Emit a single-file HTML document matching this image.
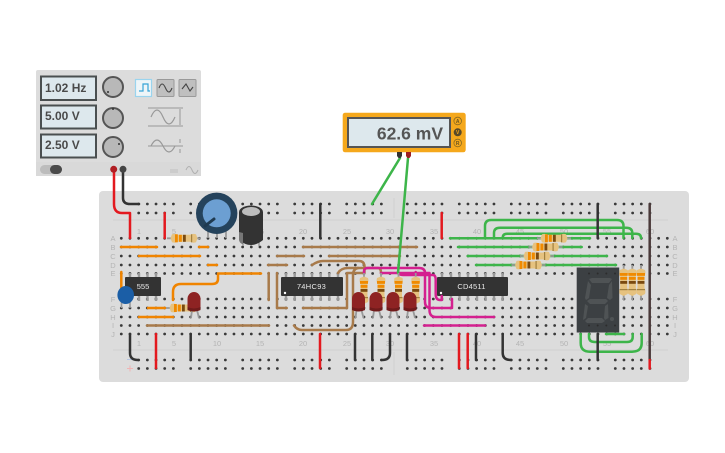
<!DOCTYPE html>
<html><head><meta charset="utf-8"><style>
html,body{margin:0;padding:0;background:#fff;width:725px;height:453px;overflow:hidden}
svg{display:block}
text{font-family:"Liberation Sans",sans-serif}
</style></head><body>
<svg width="725" height="453" viewBox="0 0 725 453" xmlns="http://www.w3.org/2000/svg">
<defs>
<g id="hres"><path d="M-17,0H17" stroke="#999" stroke-width="1.800"/><path d="M-12,-4Q-9,-5 -6,-3.500H6Q9,-5 12,-4L13.500,0L12,4Q9,5 6,3.500H-6Q-9,5 -12,4L-13.500,0Z" fill="#e6c27f"/><rect x="-9" y="-4" width="2.800" height="8" fill="#f08a00"/><rect x="-5" y="-3.500" width="2.800" height="7" fill="#f08a00"/><rect x="-1" y="-3.500" width="2.800" height="7" fill="#7a4a10"/><rect x="7" y="-4" width="1.200" height="8" fill="#a08040"/></g>
<g id="vres"><path d="M0,-17V18" stroke="#999" stroke-width="1.800"/><path d="M-4,-12Q-5,-9 -3.500,-6V6Q-5,9 -4,12L0,14L4,12Q5,9 3.500,6V-6Q5,-9 4,-12L0,-13.500Z" fill="#e6c27f"/><rect x="-4" y="-9" width="8" height="2.800" fill="#f08a00"/><rect x="-3.500" y="-5" width="7" height="2.800" fill="#f08a00"/><rect x="-3.500" y="-1" width="7" height="2.800" fill="#7a4a10"/><rect x="-4" y="7" width="8" height="1.200" fill="#a08040"/></g>
<g id="led"><path d="M-2,8L-3,16M3,8L5,16" stroke="#999" stroke-width="1.800"/><path d="M-6.500,8V-3A6.500,7 0 0 1 6.500,-3V8Q0,11 -6.500,8Z" fill="#8e2323"/><path d="M-6.500,5Q0,8 6.500,5V8Q0,11 -6.500,8Z" fill="#701b1b"/></g>
</defs>

<!-- function generator -->
<rect x="36" y="70" width="165" height="106" rx="2" fill="#dcdcdc"/>
<rect x="36" y="162" width="165" height="14" fill="#d9d9d9"/>
<g fill="#dde8ed" stroke="#4a4f50" stroke-width="2">
<rect x="41" y="76.500" width="55" height="23.500"/><rect x="41" y="105.500" width="55" height="23"/><rect x="41" y="134.500" width="55" height="23"/>
</g>
<g font-weight="bold" font-size="12" fill="#4a4a4a">
<text x="45" y="92">1.02 Hz</text><text x="45" y="120">5.00 V</text><text x="45" y="149">2.50 V</text>
</g>
<g fill="#b8b8b8" stroke="#555" stroke-width="2">
<circle cx="113" cy="87" r="10"/><circle cx="113" cy="118" r="10"/><circle cx="113" cy="147" r="10"/>
</g>
<g fill="#333"><circle cx="108" cy="92" r="1"/><circle cx="113" cy="109" r="1"/><circle cx="119" cy="144" r="1"/></g>
<rect x="135.500" y="79.500" width="16" height="17" fill="#eef5f8" stroke="#9ad4ee" stroke-width="1.200"/>
<rect x="157" y="79.500" width="17" height="17" rx="1" fill="#bfbfbf" stroke="#999"/>
<rect x="179" y="79.500" width="17" height="17" rx="1" fill="#bfbfbf" stroke="#999"/>
<path d="M139,91H143V84H148V91H150" fill="none" stroke="#36a3d6" stroke-width="1.200"/>
<path d="M159,88Q162,80 165.500,88T172,88" fill="none" stroke="#444" stroke-width="1.100"/>
<path d="M182,89L186,84L190,91L193,87" fill="none" stroke="#444" stroke-width="1.100"/>
<g fill="none" stroke="#999" stroke-width="1">
<path d="M148,108H183M148,126H183M180,109V125"/>
<path d="M151,117Q157,103 163,117T175,117" stroke-width="1.200"/>
<path d="M148,146H183M180,139V143M180,149V153"/>
<path d="M151,146Q157,134 163,146T175,146" stroke-width="1.200"/>
</g>
<rect x="40" y="165" width="22" height="9" rx="4.500" fill="#bcbcbc"/>
<rect x="50" y="165" width="12" height="9" rx="4.500" fill="#4a4a4a"/>
<path d="M170,170H178M170,172H178" stroke="#c0c0c0"/>
<path d="M186,170Q189,163 192,170T198,170" fill="none" stroke="#b0b0b0"/>

<!-- board -->
<rect x="99" y="191" width="590" height="191" rx="4" fill="#dcdcdc"/>
<path d="M113,220H668M113,350H668" stroke="#cfcfcf" stroke-width="1"/>
<path d="M394,198V218M394,352V375" stroke="#cfcfcf" stroke-width="1"/>
<!-- main holes -->
<g fill="none" stroke="#3a3a3a" stroke-width="2.800" stroke-linecap="round" stroke-dasharray="0 8.667">
<path d="M121.300,238.300H668"/><path d="M121.300,247H668"/><path d="M121.300,256H668"/><path d="M121.300,265H668"/><path d="M121.300,273.500H668"/>
<path d="M121.300,299H668"/><path d="M121.300,308H668"/><path d="M121.300,317H668"/><path d="M121.300,325.500H668"/><path d="M121.300,334H668"/>
<path d="M138.700,204H174M190.700,204H226M242.700,204H278M294.700,204H330M346.700,204H382M407.300,204H442M459.300,204H494.500M511.300,204H546.500M563.300,204H598.500M615.300,204H650.500"/>
<path d="M138.700,213H174M190.700,213H226M242.700,213H278M294.700,213H330M346.700,213H382M407.300,213H442M459.300,213H494.500M511.300,213H546.500M563.300,213H598.500M615.300,213H650.500"/>
<path d="M138.700,360H174M190.700,360H226M242.700,360H278M294.700,360H330M346.700,360H382M407.300,360H442M459.300,360H494.500M511.300,360H546.500M563.300,360H598.500M615.300,360H650.500"/>
<path d="M138.700,368.500H174M190.700,368.500H226M242.700,368.500H278M294.700,368.500H330M346.700,368.500H382M407.300,368.500H442M459.300,368.500H494.500M511.300,368.500H546.500M563.300,368.500H598.500M615.300,368.500H650.500"/>
</g>
<!-- labels -->
<g font-size="7.500" fill="#b4b4b4" text-anchor="middle">
<text x="139" y="234">1</text><text x="174" y="234">5</text><text x="217" y="234">10</text><text x="260" y="234">15</text><text x="303" y="234">20</text><text x="347" y="234">25</text><text x="390" y="234">30</text><text x="434" y="234">35</text><text x="477" y="234">40</text><text x="520" y="234">45</text><text x="564" y="234">50</text><text x="607" y="234">55</text><text x="650" y="234">60</text>
<text x="139" y="346">1</text><text x="174" y="346">5</text><text x="217" y="346">10</text><text x="260" y="346">15</text><text x="303" y="346">20</text><text x="347" y="346">25</text><text x="390" y="346">30</text><text x="434" y="346">35</text><text x="477" y="346">40</text><text x="520" y="346">45</text><text x="564" y="346">50</text><text x="607" y="346">55</text><text x="650" y="346">60</text>
<text x="113" y="241">A</text><text x="113" y="250">B</text><text x="113" y="259">C</text><text x="113" y="268">D</text><text x="113" y="276">E</text><text x="113" y="302">F</text><text x="113" y="311">G</text><text x="113" y="320">H</text><text x="113" y="328">I</text><text x="113" y="337">J</text>
<text x="675" y="241">A</text><text x="675" y="250">B</text><text x="675" y="259">C</text><text x="675" y="268">D</text><text x="675" y="276">E</text><text x="675" y="302">F</text><text x="675" y="311">G</text><text x="675" y="320">H</text><text x="675" y="328">I</text><text x="675" y="337">J</text>
</g>
<path d="M127,368.500H133M130,365.500V371.500" stroke="#f0b4b4" stroke-width="1"/>
<path d="M127,359.500H133" stroke="#b4c4e0" stroke-width="1"/>

<!-- chips -->
<g stroke="#999" stroke-width="2.400">
<path d="M130,273V279M139,273V279M147.500,273V279M156,273V279M130,296V301M139,296V301M147.500,296V301M156,296V301"/>
<path d="M286,273V279M294.700,273V279M303.300,273V279M312,273V279M320.700,273V279M329.300,273V279M338,273V279M286,295V301M294.700,295V301M303.300,295V301M312,295V301M320.700,295V301M329.300,295V301M338,295V301"/>
<path d="M442,273V279M451,273V279M459.500,273V279M468,273V279M477,273V279M485.500,273V279M494,273V279M502.600,273V279M442,295V301M451,295V301M459.500,295V301M468,295V301M477,295V301M485.500,295V301M494,295V301M502.600,295V301"/>
</g>
<rect x="125" y="277" width="36" height="19" rx="1" fill="#333"/>
<rect x="281" y="277" width="62" height="19" rx="1" fill="#333"/>
<rect x="437" y="277" width="71" height="19" rx="1" fill="#333"/>
<g fill="#fff"><circle cx="285" cy="293" r="1.200"/><circle cx="441" cy="293" r="1.200"/></g>
<g font-size="7.500" fill="#e8e8e8" text-anchor="middle">
<text x="143" y="289">555</text><text x="311.500" y="289" font-size="7.500" letter-spacing="0.300">74HC93</text><text x="471.500" y="289" letter-spacing="0.200">CD4511</text>
</g>

<!-- wires -->
<g fill="none" stroke-width="2.500" stroke-linecap="round" stroke-linejoin="round">
<g stroke="#f08400">
<path d="M121,247H157M139,256H200M199,247H208M208,265H217M121.300,272V288M148,308H165M139,317H173"/>
<path d="M261,273.500H218V279Q218,284 212,284H181Q173,284 173,292V300"/>
</g>
<g stroke="#a87a4a">
<path d="M147,325.500H269M268.700,273V300M277,273V308H286.700M277,256H304M268,265H287"/>
<path d="M303,247H417M329,256H400M303,308H347V273H364"/>
<path d="M312,265Q318,261 323,261H359Q364,261 364.500,266V273"/>
<path d="M338,273Q341,268 348,268H378Q381,268 381,273"/>
<path d="M294,325.500Q297,330 302,330H346Q353,330 353,322V275Q353,269 358,268"/>
</g>
<g stroke="#d4208f">
<path d="M364,273V271Q364,268 368,268H419Q425,268 425,273V302Q425,308 431,308H452V299"/>
<path d="M381,273H429.500V310Q429.500,317 436,317H494"/>
<path d="M398,272Q399,275 403,275H433Q435.700,275 435.700,280V294Q435.700,300 440,300H441.700V296"/>
<path d="M415.700,272V275"/>
<path d="M424,325.500H485"/>
</g>
<g stroke="#3db54a">
<path d="M450,238.300H590M458,247H581.700M467.700,256H607M476,265H616"/>
<path d="M485,238V226Q485,220 491,220H617Q623.500,220 623.500,226V238"/>
<path d="M494,238V233Q494,227.700 500,227.700H626Q632.300,227.700 632.300,233V238"/>
<path d="M502.700,238Q502.700,233.700 507,233.700H636Q641,233.700 641,238"/>
<path d="M580.700,334V343Q580.700,351.700 590,351.700H632Q641.700,351.700 641.700,343V334"/>
<path d="M589,334V337Q589,342 595,342H627Q632.700,342 632.700,337V334"/>
<path d="M606,334H624"/>
<path d="M372,204L400,158M398,273L408,158"/>
</g>
<g stroke="#e3191f">
<path d="M114,170V204Q114,213 122,213H130M130,213V238M164.700,213V238M156,334V368M320,334V368M441.700,213V238M459,334V368M467.700,334V368"/>
</g>
<g stroke="#333">
<path d="M123,170V198Q123,204 130,204H139M130,334V353Q130,360 138,360M190.700,334V360M320.300,204V238M355,334V360M372.300,334V360M390,334V353Q390,360 382,360M407,334V360M476,334V360M502.700,334V353Q502.700,360 511,360M597.700,204V238M597.700,334V360"/>
</g>
<path d="M649.700,204V360" stroke="#4a3a3a" stroke-width="2.500"/>
<path d="M649.700,360V368.500" stroke="#e3191f" stroke-width="2.500"/>
</g>

<!-- left resistors -->
<use href="#hres" x="184" y="238.300"/>
<use href="#hres" x="183" y="308"/>
<use href="#hres" x="554" y="238.300"/>
<use href="#hres" x="545.500" y="247"/>
<use href="#hres" x="537" y="256"/>
<use href="#hres" x="528.500" y="265"/>
<!-- vertical resistors -->
<use href="#vres" x="364" y="290"/>
<use href="#vres" x="381" y="290"/>
<use href="#vres" x="398.500" y="290"/>
<use href="#vres" x="415.700" y="290"/>
<use href="#vres" x="623.700" y="282"/>
<use href="#vres" x="632.300" y="282"/>
<use href="#vres" x="641" y="282"/>
<!-- LEDs -->
<use href="#led" x="358.500" y="302"/>
<use href="#led" x="376" y="302"/>
<use href="#led" x="393" y="302"/>
<use href="#led" x="410" y="302"/>
<use href="#led" x="194" y="302"/>

<!-- pot -->
<path d="M208,228V238M217,228V238M226,228V238" stroke="#999" stroke-width="1.800"/>
<circle cx="216.700" cy="213.300" r="20.700" fill="#25435c"/>
<circle cx="216.700" cy="213.300" r="14" fill="#6c9fd2"/>
<path d="M214,219L205,226" stroke="#1f3a50" stroke-width="3" stroke-linecap="round"/>
<!-- electrolytic -->
<path d="M243,240V246M251,240V246M259,240V246" stroke="#999" stroke-width="1.500"/>
<path d="M239,212V240Q251,250 263,240V212Z" fill="#333"/>
<path d="M239,232V240Q240,244 243,244V233Z" fill="#777"/>
<ellipse cx="251" cy="212" rx="12" ry="6.500" fill="#333"/>
<ellipse cx="251" cy="211.500" rx="9" ry="4.500" fill="#bdbdbd"/>
<!-- blue capacitor -->
<path d="M121.500,298V308M130,298V308" stroke="#999" stroke-width="1.600"/>
<ellipse cx="125.700" cy="295" rx="8.300" ry="9" fill="#1b5ea6"/>
<!-- 7 seg -->
<rect x="576.700" y="267.500" width="42.500" height="65" fill="#3c4043"/>
<g fill="#4f5355">
<path d="M589,279L592,278H610L612,279L609,283H592Z"/>
<path d="M588,281L591,285L589,298L586,300L585,298Z"/>
<path d="M612,281L612.500,298L610,300L607,298L609,285Z"/>
<path d="M587,301L590,299H606L608,301L605,304H590Z"/>
<path d="M585,304L588,306L586,318L583,320Z"/>
<path d="M608,304L608.500,318L605,320L604,318L605,306Z"/>
<path d="M585,321L588,318H602L605,321L602,323H587Z"/>
<circle cx="612" cy="319" r="2"/>
</g>
<g stroke="#2c2c2c" stroke-width="2" stroke-linecap="round" stroke-dasharray="0 8.667" fill="none">
<path d="M589,273.500H616M589,325.500H616"/>
</g>

<!-- generator terminals -->
<circle cx="113.700" cy="169.300" r="3.500" fill="#b01e23"/>
<circle cx="123" cy="169.300" r="3.500" fill="#444"/>

<!-- multimeter -->
<rect x="342.700" y="112.700" width="123" height="39.600" rx="2.500" fill="#f5a81c"/>
<rect x="348" y="118" width="102" height="29" fill="#dde8ed" stroke="#555" stroke-width="2"/>
<text x="443" y="139.500" text-anchor="end" font-weight="bold" font-size="17.500" fill="#555">62.6 mV</text>
<circle cx="457.700" cy="121" r="3.800" fill="#f5a81c" stroke="#8a6a20" stroke-width="0.800"/>
<circle cx="457.700" cy="132.300" r="4" fill="#5a4a28"/>
<circle cx="457.700" cy="143" r="3.800" fill="#f5a81c" stroke="#8a6a20" stroke-width="0.800"/>
<g font-size="5" text-anchor="middle" fill="#6a5520" font-weight="bold">
<text x="457.700" y="122.800">A</text><text x="457.700" y="134" fill="#f5a81c">V</text><text x="457.700" y="144.800">R</text>
</g>
<path d="M397,152H402V156L400.500,158H398.500L397,156Z" fill="#333"/>
<path d="M406,152H411V156L409.500,158H407.500L406,156Z" fill="#9c1f24"/>
</svg>
</body></html>
